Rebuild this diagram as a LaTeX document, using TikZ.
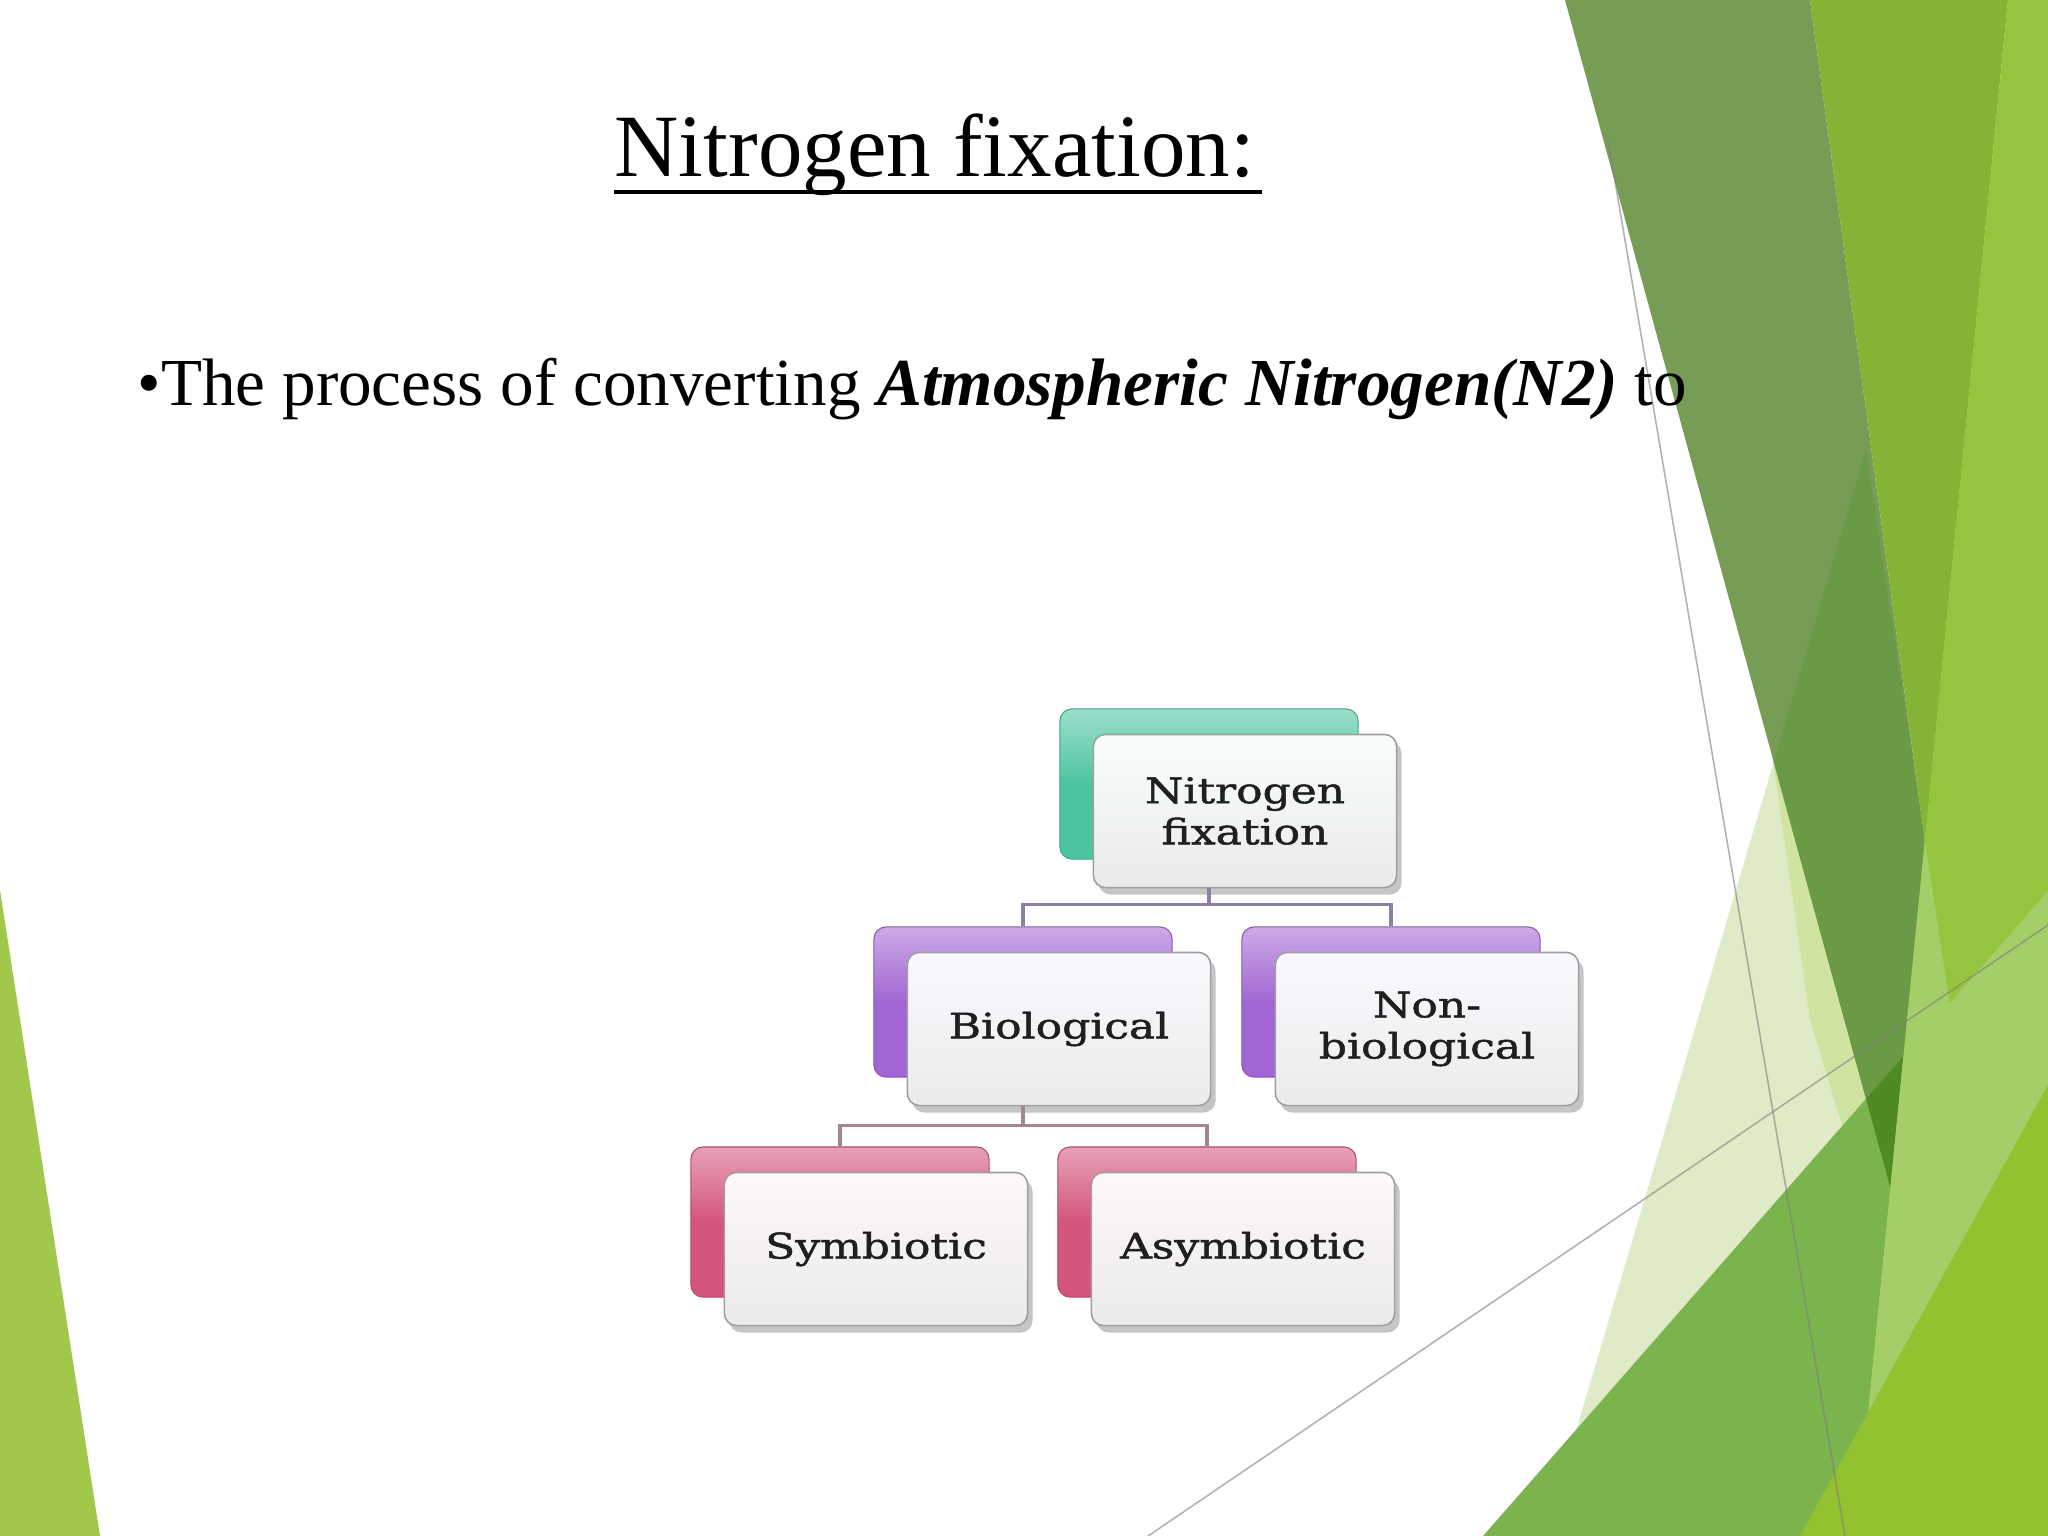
\documentclass[tikz,border=0pt]{standalone}
\usepackage{fontspec}
\setmainfont{Liberation Serif}
\newfontfamily\boxfont[FakeStretch=1.25, FakeBold=1.4]{DejaVu Serif}
\usepackage{tikz}
\usetikzlibrary{calc, shadows, positioning}

% Facet greens
\definecolor{leftLeaf}{HTML}{A2C84B}
\definecolor{paleLeaf}{HTML}{DFEBC6}
\definecolor{mistLeaf}{HTML}{D0E4A2}
\definecolor{oliveLeaf}{HTML}{779C55}
\definecolor{oliveDeep}{HTML}{6A9A45}
\definecolor{midLeaf}{HTML}{85B335}
\definecolor{grassLeaf}{HTML}{7BB34D}
\definecolor{darkLeaf}{HTML}{4F8A22}
\definecolor{limeLeaf}{HTML}{97C43E}
\definecolor{limePale}{HTML}{A5CE68}
\definecolor{brightLeaf}{HTML}{93C230}
% chart colours
\definecolor{tealTab}{HTML}{4CC4A0}
\definecolor{violetTab}{HTML}{A266D4}
\definecolor{roseTab}{HTML}{D4557C}
\definecolor{violetLink}{HTML}{8E7FA8}
\definecolor{roseLink}{HTML}{A48592}

\tikzset{
  tab/.style={rounded corners=1.2mm, minimum width=2.98cm, minimum height=1.5cm,
    inner sep=0pt, top color=#1!55!white, bottom color=#1, middle color=#1,
    draw=#1!85!black, line width=0.3pt},
  card/.style={rounded corners=1.2mm, draw=gray!75, line width=0.45pt,
    minimum width=3.03cm, minimum height=1.53cm, inner sep=2pt, align=center,
    text=black!88, font=\boxfont\fontsize{10}{11.7}\selectfont,
    top color=#1!4!white, bottom color=#1!8!gray!16!white,
    drop shadow={shadow xshift=0.5mm, shadow yshift=-0.7mm, opacity=0.45}},
  link/.style={line width=0.9pt, draw=#1},
  guide/.style={gray, opacity=0.6, line width=0.45pt}
}

\begin{document}
\begin{tikzpicture}[x=0.01cm, y=-0.01cm]
\useasboundingbox (0,0) rectangle (2048,1536);
\fill[white] (0,0) rectangle (2048,1536);

% Facet shapes
\fill[leftLeaf] (0,890) -- (100,1536) -- (0,1536) -- cycle;
\fill[paleLeaf] (1866,450) -- (1545,1536) -- (2030,1536) -- cycle;
\fill[mistLeaf] (1771,747) -- (1810,1020) -- (1880,1250) -- (1891,1190) -- cycle;
\fill[oliveLeaf] (1565,0) -- (1810,0) -- (1925,842) -- (1891,1190) -- cycle;
\begin{scope}
  \clip (1866,450) -- (1545,1536) -- (2030,1536) -- cycle;
  \fill[oliveDeep] (1565,0) -- (1810,0) -- (1925,842) -- (1891,1190) -- cycle;
\end{scope}
\fill[midLeaf] (1810,0) -- (2008,0) -- (1925,842) -- cycle;
\fill[grassLeaf] (1483,1536) -- (2048,891) -- (2048,1536) -- cycle;
\begin{scope}
  \clip (1483,1536) -- (2048,891) -- (2048,1536) -- cycle;
  \fill[darkLeaf] (1565,0) -- (1810,0) -- (1925,842) -- (1891,1190) -- cycle;
\end{scope}
\fill[limeLeaf] (2008,0) -- (2048,0) -- (2048,1536) -- (1856,1536) -- cycle;
\begin{scope}
  \clip (2008,0) -- (2048,0) -- (2048,1536) -- (1856,1536) -- cycle;
  \fill[limePale] (1866,450) -- (1545,1536) -- (2030,1536) -- cycle;
  \fill[limePale] (1483,1536) -- (2048,891) -- (2048,1536) -- cycle;
\end{scope}
\fill[brightLeaf] (1800,1536) -- (2048,1085) -- (2048,1536) -- cycle;

% Thin guide lines
\draw[guide] (1608,140) -- (1845,1536);
\draw[guide] (1148,1536) -- (2048,925);

% Title
\node[anchor=base west, inner sep=0pt, font=\fontsize{25.3}{30}\selectfont] (title) at (614,176) {Nitrogen fixation:};
\draw[line width=1pt] ([yshift=-4.5pt]title.base west) -- ([yshift=-4.5pt, xshift=2pt]title.base east);

% Bullet line
\node[anchor=base west, inner sep=0pt, font=\fontsize{19.1}{23}\selectfont] (intro) at (137,405)
  {\textbullet The process of converting \textbf{\textit{Atmospheric Nitrogen(N2)}} to};

% Hierarchy: coloured tab behind each card
\foreach \nm/\x/\y/\col/\txt in {
    top/1209/784/tealTab/{Nitrogen\\fixation},
    bio/1023/1002/violetTab/Biological,
    non/1391/1002/violetTab/{Non-\\biological},
    sym/840/1222/roseTab/Symbiotic,
    asym/1207/1222/roseTab/Asymbiotic} {
    \node[tab=\col] (tab\nm) at (\x,\y) {};
    \node[card=\col] (\nm) at (\x+36,\y+27) {\txt};
}

% Connectors
\coordinate (forkTop) at ($(tabtop |- top.south)+(0,16)$);
\draw[link=violetLink] (tabtop |- top.south) -- (forkTop);
\draw[link=violetLink] (tabbio.north) |- (forkTop) -| (tabnon.north);

\coordinate (forkBio) at ($(tabbio |- bio.south)+(0,19)$);
\draw[link=roseLink] (tabbio |- bio.south) -- (forkBio);
\draw[link=roseLink] (tabsym.north) |- (forkBio) -| (tabasym.north);

\end{tikzpicture}
\end{document}
